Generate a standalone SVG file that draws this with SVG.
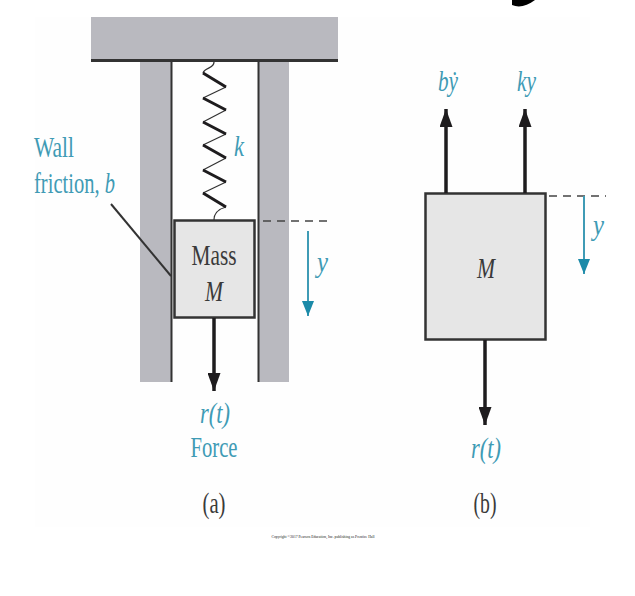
<svg xmlns="http://www.w3.org/2000/svg" width="635" height="596" viewBox="0 0 635 596">
<defs>
<style>
text{font-family:"Liberation Serif","Times New Roman",serif;font-size:29px}
.t{fill:#3f9bb5}
.d{fill:#3a3a3a}
.i{font-style:italic}
.wall{fill:#b9b9bf}
.mass{fill:#e6e6e6;stroke:#333;stroke-width:2.500}
.blk{stroke:#1e1c1e;stroke-width:3.500;fill:none}
.blu{stroke:#3f9bb5;stroke-width:2;fill:none}
.ln{stroke:#333;stroke-width:2;fill:none}
.dash{stroke:#444;stroke-width:1.600;stroke-dasharray:8 6;fill:none}
</style>
<marker id="ab" markerUnits="userSpaceOnUse" markerWidth="18" markerHeight="13" refX="18" refY="6.500" orient="auto" viewBox="0 0 18 13"><path d="M0 0L18 6.500L0 13Z" fill="#1e1c1e"/></marker>
<marker id="at" markerUnits="userSpaceOnUse" markerWidth="15" markerHeight="12" refX="15" refY="6" orient="auto" viewBox="0 0 15 12"><path d="M0 0L15 6L0 12Z" fill="#1b8aa8"/></marker>
</defs>
<rect width="635" height="596" fill="#fff"/>
<rect x="35" y="17" width="555" height="510" fill="#fefefe"/>
<path d="M512 5C519 8 527 6 535 0L512 0Z" fill="#000"/>
<g id="diagram-a">
<g id="ceiling"><rect class="wall" x="91" y="17" width="247" height="43"/><path d="M91 60.500H338" stroke="#333" stroke-width="3"/></g>
<g id="wall-left"><rect class="wall" x="140" y="62" width="31" height="320"/><path class="ln" d="M171.500 61V382"/></g>
<g id="wall-right"><rect class="wall" x="258" y="62" width="31" height="320"/><path class="ln" d="M258.500 61V382"/></g>
<g id="mass-a"><rect class="mass" x="174.500" y="220.500" width="80" height="97"/>
<text class="d" x="214" y="265" text-anchor="middle" textLength="45" lengthAdjust="spacingAndGlyphs">Mass</text>
<text class="d i" x="214" y="301" text-anchor="middle" textLength="18" lengthAdjust="spacingAndGlyphs">M</text></g>
<g id="spring">
<path d="M214 62C214 69 205 67 203 73M226 87L203 98M226 110L203 122M226 134L203 145M226 158L203 170M226 182L203 193M226 207C219 209 214 212 214 220" fill="none" stroke="#333" stroke-width="1.300"/>
<path d="M203 73L226 87M203 98L226 110M203 122L226 134M203 145L226 158M203 170L226 182M203 193L226 207" fill="none" stroke="#1e1c1e" stroke-width="3"/>
<text class="t i" x="234" y="156" textLength="10" lengthAdjust="spacingAndGlyphs">k</text></g>
<g id="label-wall">
<text class="t" x="34" y="157" textLength="40" lengthAdjust="spacingAndGlyphs">Wall</text>
<text class="t" x="34" y="193" textLength="81" lengthAdjust="spacingAndGlyphs">friction, <tspan class="i">b</tspan></text></g>
<g id="label-y-a"><text class="t i" x="317" y="272" textLength="11" lengthAdjust="spacingAndGlyphs">y</text></g>
<g id="label-r-a"><text class="t i" x="200" y="423" textLength="30" lengthAdjust="spacingAndGlyphs">r(t)</text>
<text class="t" x="214" y="457" text-anchor="middle" textLength="47" lengthAdjust="spacingAndGlyphs">Force</text></g>
<g id="caption-a"><text class="d" x="214" y="513" text-anchor="middle" textLength="23" lengthAdjust="spacingAndGlyphs">(a)</text></g>
</g>
<g id="diagram-b">
<g id="mass-b"><rect class="mass" x="425.500" y="193.500" width="120" height="146"/>
<text class="d i" x="486" y="278" text-anchor="middle" textLength="18" lengthAdjust="spacingAndGlyphs">M</text></g>
<g id="label-by"><text class="t i" x="438" y="91" textLength="20" lengthAdjust="spacingAndGlyphs">bẏ</text></g>
<g id="label-ky"><text class="t i" x="517" y="91" textLength="19" lengthAdjust="spacingAndGlyphs">ky</text></g>
<g id="label-y-b"><text class="t i" x="593" y="235" textLength="11" lengthAdjust="spacingAndGlyphs">y</text></g>
<g id="label-r-b"><text class="t i" x="471" y="458" textLength="30" lengthAdjust="spacingAndGlyphs">r(t)</text></g>
<g id="caption-b"><text class="d" x="485" y="513" text-anchor="middle" textLength="23" lengthAdjust="spacingAndGlyphs">(b)</text></g>
</g>
<g id="copyright"><text x="323" y="538" text-anchor="middle" textLength="103" lengthAdjust="spacingAndGlyphs" fill="#222" style="font-size:4.500px">Copyright ©2017 Pearson Education, Inc. publishing as Prentice Hall</text></g>
<g id="connectors">
<path class="ln" d="M111 204L171 276" stroke-width="1.500"/>
<path class="dash" d="M263 221H328"/>
<path class="blu" d="M308 231V316" marker-end="url(#at)"/>
<path class="blk" d="M214 318V391" marker-end="url(#ab)"/>
<path class="blk" d="M446 193V109" marker-end="url(#ab)"/>
<path class="blk" d="M525 193V109" marker-end="url(#ab)"/>
<path class="blk" d="M485 340V425" marker-end="url(#ab)"/>
<path class="dash" d="M549 196H606"/>
<path class="blu" d="M584 196V274" marker-end="url(#at)"/>
</g>
</svg>
